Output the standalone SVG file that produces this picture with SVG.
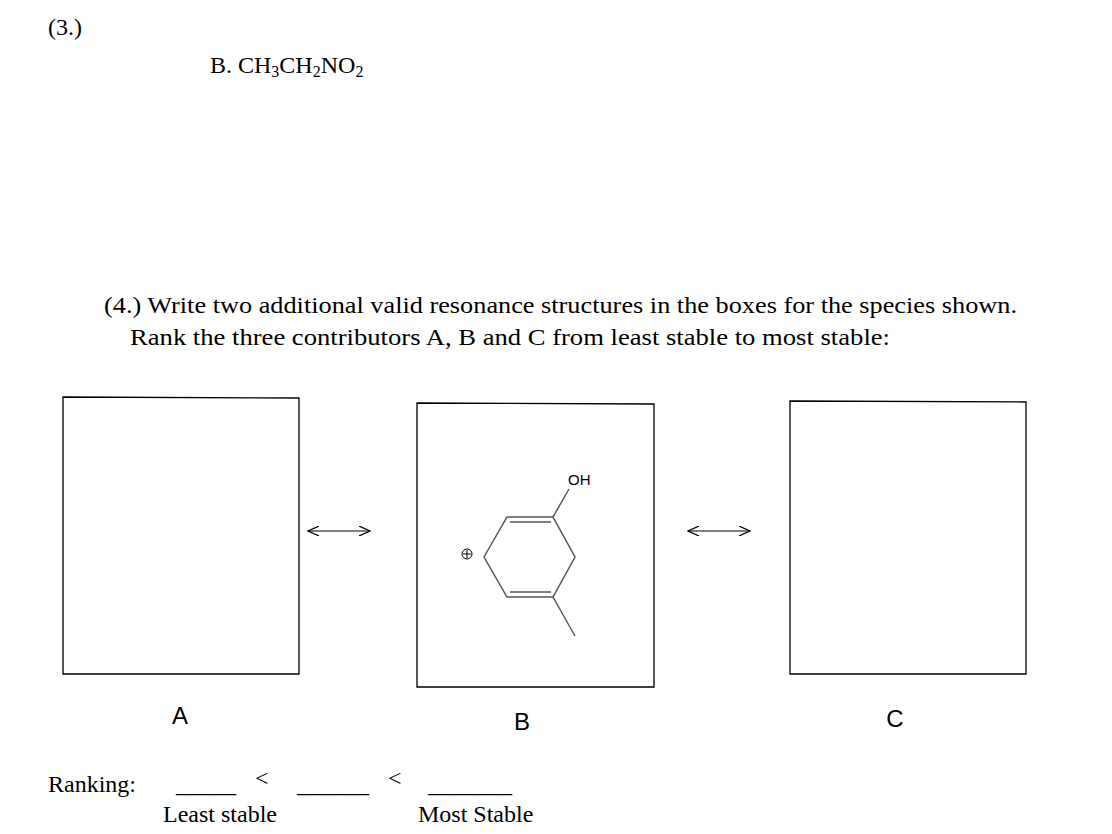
<svg xmlns="http://www.w3.org/2000/svg" width="1112" height="834" viewBox="0 0 1112 834">
<style>
.t{font-family:"Liberation Serif",serif;font-size:24px;fill:#000}
.s{font-family:"Liberation Sans",sans-serif;fill:#000}
.box{fill:none;stroke:#000;stroke-width:1.3}
.b{stroke:#555;stroke-width:1.5;fill:none}
</style>
<defs><marker id="ah" markerWidth="12" markerHeight="10" refX="11" refY="5" orient="auto-start-reverse" markerUnits="userSpaceOnUse"><path d="M0,0 L11,5 L0,10" fill="none" stroke="#000" stroke-width="1.2"/></marker></defs>
<rect width="1112" height="834" fill="#fff"/>
<text class="t" x="48" y="35">(3.)</text>
<text class="t" x="210" y="73">B.  CH<tspan font-size="16" dy="4">3</tspan><tspan dy="-4">CH</tspan><tspan font-size="16" dy="4">2</tspan><tspan dy="-4">NO</tspan><tspan font-size="16" dy="4">2</tspan></text>
<text class="t" x="104" y="313" textLength="913" lengthAdjust="spacingAndGlyphs">(4.) Write two additional valid resonance structures in the boxes for the species shown.</text>
<text class="t" x="130" y="345" textLength="760" lengthAdjust="spacingAndGlyphs">Rank the three contributors A, B and C from least stable to most stable:</text>
<g id="boxA"><path class="box" d="M63,397 L299,398 L299,674 L63,674 Z"/><text class="s" x="180" y="724" font-size="24" text-anchor="middle">A</text></g>
<g id="boxB"><path class="box" d="M417,403 L654,404 L654,687 L417,687 Z"/><text class="s" x="522" y="730" font-size="24" text-anchor="middle">B</text>
<g id="mol">
<path class="b" d="M484,557 L507,517 L553,517 L575,557 L553,597 L507,597 Z"/>
<line class="b" x1="510" y1="522" x2="551" y2="522"/>
<line class="b" x1="510" y1="592" x2="551" y2="592"/>
<line class="b" x1="553" y1="517" x2="569" y2="489"/>
<line class="b" x1="553" y1="597" x2="575" y2="636"/>
<text class="s" x="568" y="485" font-size="15">OH</text>
<circle cx="467" cy="554" r="5" fill="none" stroke="#000" stroke-width="1"/>
<path d="M463,554 H471 M467,550 V558" stroke="#000" stroke-width="1"/>
</g></g>
<g id="boxC"><path class="box" d="M790,401 L1026,402 L1026,674 L790,674 Z"/><text class="s" x="895" y="727" font-size="24" text-anchor="middle">C</text></g>
<g id="connectors">
<line x1="308" y1="531" x2="370" y2="531" stroke="#000" stroke-width="1.2" marker-start="url(#ah)" marker-end="url(#ah)"/>
<line x1="688" y1="531" x2="750" y2="531" stroke="#000" stroke-width="1.2" marker-start="url(#ah)" marker-end="url(#ah)"/>
</g>
<text class="t" x="48" y="792">Ranking:</text>
<text class="t" x="176" y="792">_____</text>
<text class="t" x="255" y="786">&lt;</text>
<text class="t" x="297" y="792">______</text>
<text class="t" x="388" y="786">&lt;</text>
<text class="t" x="428" y="792">_______</text>
<text class="t" x="163" y="822">Least stable</text>
<text class="t" x="418" y="822">Most Stable</text>
</svg>
